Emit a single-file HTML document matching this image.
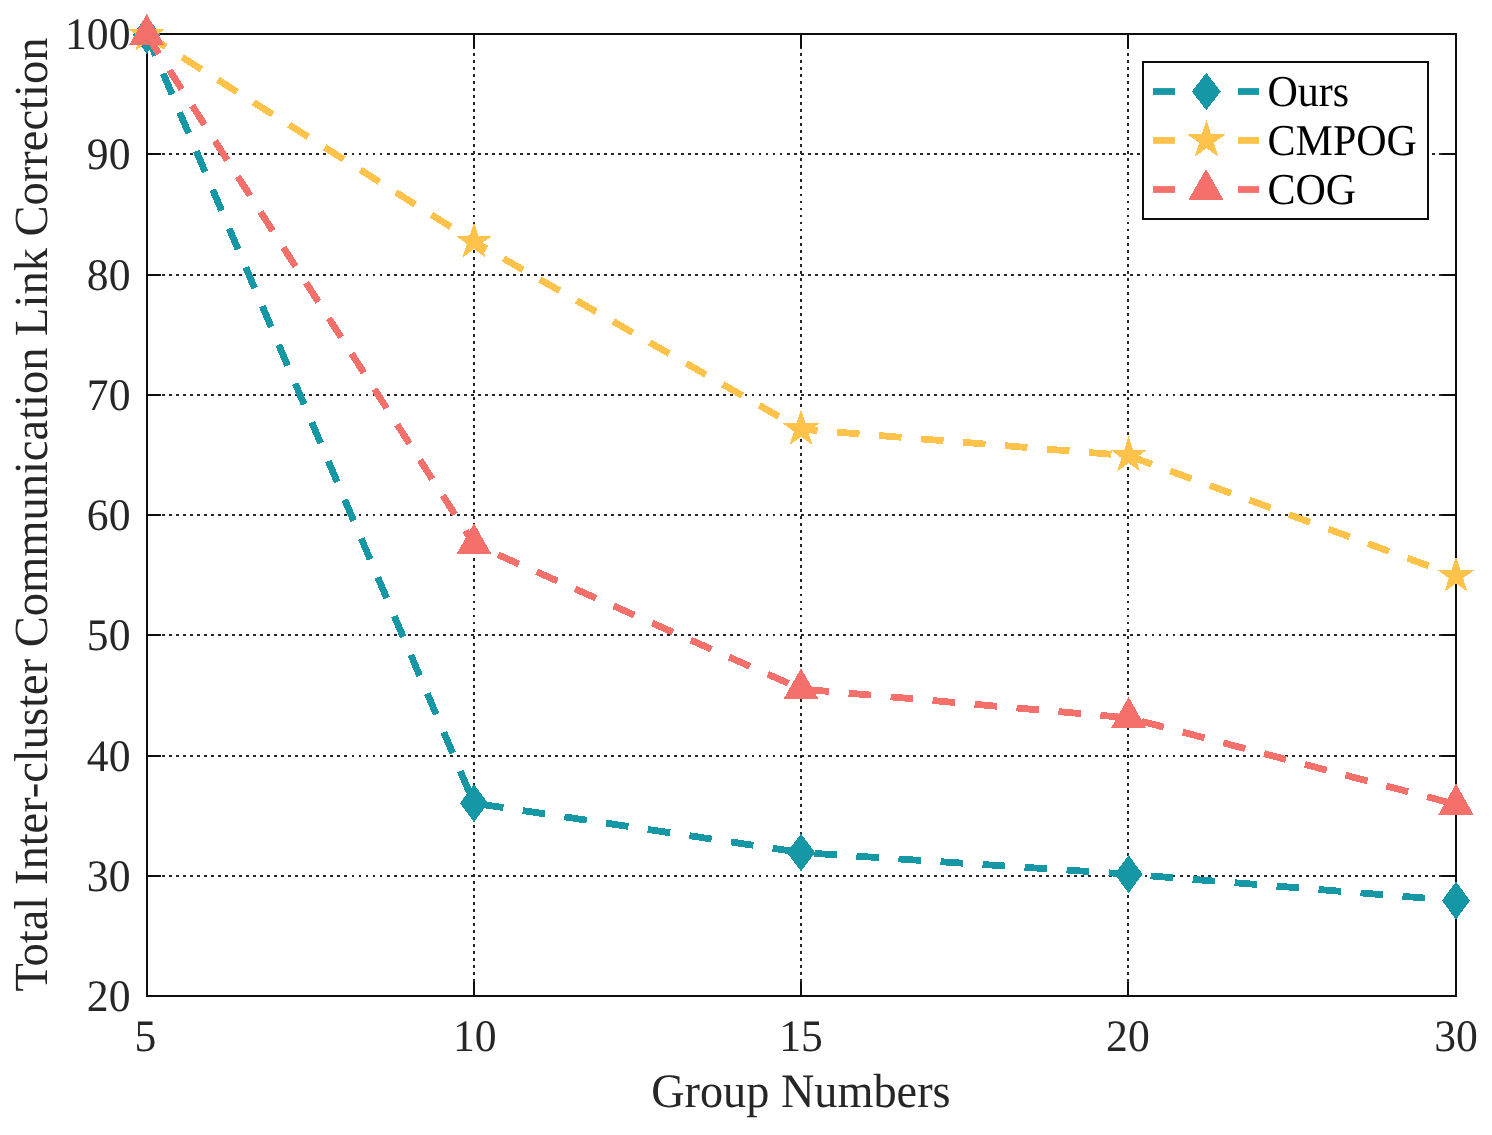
<!DOCTYPE html><html><head><meta charset="utf-8"><style>html,body{margin:0;padding:0;background:#fff;overflow:hidden;}svg{display:block;}text{font-family:"Liberation Serif","Times New Roman",serif;text-rendering:geometricPrecision;}</style></head><body>
<svg width="1492" height="1135" viewBox="0 0 1492 1135">
<rect x="0" y="0" width="1492" height="1135" fill="#fff"/>
<g stroke="#262626" stroke-width="2" stroke-dasharray="2.9 4.1177" shape-rendering="crispEdges"><line x1="148" y1="876" x2="1455" y2="876"/><line x1="148" y1="756" x2="1455" y2="756"/><line x1="148" y1="635" x2="1455" y2="635"/><line x1="148" y1="515" x2="1455" y2="515"/><line x1="148" y1="395" x2="1455" y2="395"/><line x1="148" y1="275" x2="1455" y2="275"/><line x1="148" y1="154" x2="1455" y2="154"/></g>
<g stroke="#262626" stroke-width="2" stroke-dasharray="2.9 4.1177" stroke-dashoffset="2.9" shape-rendering="crispEdges"><line x1="474" y1="35" x2="474" y2="995"/><line x1="801" y1="35" x2="801" y2="995"/><line x1="1128" y1="35" x2="1128" y2="995"/></g>
<g stroke="#0d0d0d" stroke-width="2" shape-rendering="crispEdges"><line x1="147" y1="996" x2="161" y2="996"/><line x1="1456" y1="996" x2="1442" y2="996"/><line x1="147" y1="876" x2="161" y2="876"/><line x1="1456" y1="876" x2="1442" y2="876"/><line x1="147" y1="756" x2="161" y2="756"/><line x1="1456" y1="756" x2="1442" y2="756"/><line x1="147" y1="635" x2="161" y2="635"/><line x1="1456" y1="635" x2="1442" y2="635"/><line x1="147" y1="515" x2="161" y2="515"/><line x1="1456" y1="515" x2="1442" y2="515"/><line x1="147" y1="395" x2="161" y2="395"/><line x1="1456" y1="395" x2="1442" y2="395"/><line x1="147" y1="275" x2="161" y2="275"/><line x1="1456" y1="275" x2="1442" y2="275"/><line x1="147" y1="154" x2="161" y2="154"/><line x1="1456" y1="154" x2="1442" y2="154"/><line x1="147" y1="34" x2="161" y2="34"/><line x1="1456" y1="34" x2="1442" y2="34"/><line x1="147" y1="996" x2="147" y2="982"/><line x1="147" y1="34" x2="147" y2="48"/><line x1="474" y1="996" x2="474" y2="982"/><line x1="474" y1="34" x2="474" y2="48"/><line x1="801" y1="996" x2="801" y2="982"/><line x1="801" y1="34" x2="801" y2="48"/><line x1="1128" y1="996" x2="1128" y2="982"/><line x1="1128" y1="34" x2="1128" y2="48"/><line x1="1456" y1="996" x2="1456" y2="982"/><line x1="1456" y1="34" x2="1456" y2="48"/></g>
<rect x="147" y="34" width="1309" height="962" fill="none" stroke="#0d0d0d" stroke-width="2" shape-rendering="crispEdges"/>
<polyline points="146.70,34.80 474.00,803.20 801.00,852.50 1128.60,874.14 1456.00,900.60" fill="none" stroke="#1597A5" stroke-width="6.8" stroke-dasharray="22.6 19.52" stroke-linejoin="miter" shape-rendering="crispEdges"/>
<path d="M146.70,15.80 L160.70,34.80 L146.70,53.80 L132.70,34.80 Z" fill="#1597A5" shape-rendering="crispEdges"/>
<path d="M474.00,784.20 L488.00,803.20 L474.00,822.20 L460.00,803.20 Z" fill="#1597A5" shape-rendering="crispEdges"/>
<path d="M801.00,833.50 L815.00,852.50 L801.00,871.50 L787.00,852.50 Z" fill="#1597A5" shape-rendering="crispEdges"/>
<path d="M1128.60,855.14 L1142.60,874.14 L1128.60,893.14 L1114.60,874.14 Z" fill="#1597A5" shape-rendering="crispEdges"/>
<path d="M1456.00,881.60 L1470.00,900.60 L1456.00,919.60 L1442.00,900.60 Z" fill="#1597A5" shape-rendering="crispEdges"/>
<polyline points="146.70,34.80 474.00,241.63 801.00,429.22 1128.60,455.68 1456.00,575.92" fill="none" stroke="#FFC24B" stroke-width="6.8" stroke-dasharray="22.6 19.52" stroke-linejoin="miter" shape-rendering="crispEdges"/>
<polygon points="146.70,15.20 151.10,28.74 165.34,28.74 153.82,37.11 158.22,50.66 146.70,42.29 135.18,50.66 139.58,37.11 128.06,28.74 142.30,28.74" fill="#FFC24B" shape-rendering="crispEdges"/>
<polygon points="474.00,222.03 478.40,235.57 492.64,235.57 481.12,243.94 485.52,257.49 474.00,249.12 462.48,257.49 466.88,243.94 455.36,235.57 469.60,235.57" fill="#FFC24B" shape-rendering="crispEdges"/>
<polygon points="801.00,409.62 805.40,423.16 819.64,423.16 808.12,431.53 812.52,445.08 801.00,436.71 789.48,445.08 793.88,431.53 782.36,423.16 796.60,423.16" fill="#FFC24B" shape-rendering="crispEdges"/>
<polygon points="1128.60,436.07 1133.00,449.62 1147.24,449.62 1135.72,457.99 1140.12,471.53 1128.60,463.16 1117.08,471.53 1121.48,457.99 1109.96,449.62 1124.20,449.62" fill="#FFC24B" shape-rendering="crispEdges"/>
<polygon points="1456.00,556.32 1460.40,569.87 1474.64,569.87 1463.12,578.24 1467.52,591.78 1456.00,583.41 1444.48,591.78 1448.88,578.24 1437.36,569.87 1451.60,569.87" fill="#FFC24B" shape-rendering="crispEdges"/>
<polyline points="146.70,34.80 474.00,544.06 801.00,688.96 1128.60,717.82 1456.00,804.40" fill="none" stroke="#F5706A" stroke-width="6.8" stroke-dasharray="22.6 19.52" stroke-linejoin="miter" shape-rendering="crispEdges"/>
<polygon points="146.70,14.00 164.33,45.15 129.07,45.15" fill="#F5706A" shape-rendering="crispEdges"/>
<polygon points="474.00,523.26 491.63,554.41 456.37,554.41" fill="#F5706A" shape-rendering="crispEdges"/>
<polygon points="801.00,668.16 818.63,699.31 783.37,699.31" fill="#F5706A" shape-rendering="crispEdges"/>
<polygon points="1128.60,697.02 1146.23,728.17 1110.97,728.17" fill="#F5706A" shape-rendering="crispEdges"/>
<polygon points="1456.00,783.60 1473.63,814.75 1438.37,814.75" fill="#F5706A" shape-rendering="crispEdges"/>
<text transform="translate(130.50,1011.20) scale(0.97,1)" font-size="45" text-anchor="end" fill="#262626">20</text>
<text transform="translate(130.50,890.95) scale(0.97,1)" font-size="45" text-anchor="end" fill="#262626">30</text>
<text transform="translate(130.50,770.70) scale(0.97,1)" font-size="45" text-anchor="end" fill="#262626">40</text>
<text transform="translate(130.50,650.45) scale(0.97,1)" font-size="45" text-anchor="end" fill="#262626">50</text>
<text transform="translate(130.50,530.20) scale(0.97,1)" font-size="45" text-anchor="end" fill="#262626">60</text>
<text transform="translate(130.50,409.95) scale(0.97,1)" font-size="45" text-anchor="end" fill="#262626">70</text>
<text transform="translate(130.50,289.70) scale(0.97,1)" font-size="45" text-anchor="end" fill="#262626">80</text>
<text transform="translate(130.50,169.45) scale(0.97,1)" font-size="45" text-anchor="end" fill="#262626">90</text>
<text transform="translate(130.50,49.20) scale(0.97,1)" font-size="45" text-anchor="end" fill="#262626">100</text>
<text transform="translate(145.50,1051.00) scale(0.97,1)" font-size="45" text-anchor="middle" fill="#262626">5</text>
<text transform="translate(474.75,1051.00) scale(0.97,1)" font-size="45" text-anchor="middle" fill="#262626">10</text>
<text transform="translate(801.00,1051.00) scale(0.97,1)" font-size="45" text-anchor="middle" fill="#262626">15</text>
<text transform="translate(1127.95,1051.00) scale(0.97,1)" font-size="45" text-anchor="middle" fill="#262626">20</text>
<text transform="translate(1456.00,1051.00) scale(0.97,1)" font-size="45" text-anchor="middle" fill="#262626">30</text>
<text transform="translate(800.85,1107.00) scale(0.964,1)" font-size="48" text-anchor="middle" fill="#262626">Group Numbers</text>
<text transform="translate(47.00,514.60) rotate(-90) scale(0.979,1)" font-size="47.5" text-anchor="middle" fill="#262626">Total Inter-cluster Communication Link Correction</text>
<rect x="1143" y="62" width="285" height="157" fill="#fff" stroke="#0d0d0d" stroke-width="2" shape-rendering="crispEdges"/>
<line x1="1153" y1="91.5" x2="1175" y2="91.5" stroke="#1597A5" stroke-width="6.8"/>
<line x1="1238" y1="91.5" x2="1259" y2="91.5" stroke="#1597A5" stroke-width="6.8"/>
<path d="M1206.30,72.90 L1220.80,91.50 L1206.30,110.10 L1191.80,91.50 Z" fill="#1597A5" shape-rendering="crispEdges"/>
<text transform="translate(1267.50,105.70) scale(0.955,1)" font-size="44" text-anchor="start" fill="#000">Ours</text>
<line x1="1153" y1="140.45" x2="1175" y2="140.45" stroke="#FFC24B" stroke-width="6.8"/>
<line x1="1238" y1="140.45" x2="1259" y2="140.45" stroke="#FFC24B" stroke-width="6.8"/>
<polygon points="1206.50,120.25 1211.04,134.21 1225.71,134.21 1213.84,142.83 1218.37,156.79 1206.50,148.17 1194.63,156.79 1199.16,142.83 1187.29,134.21 1201.96,134.21" fill="#FFC24B" shape-rendering="crispEdges"/>
<text transform="translate(1267.50,154.70) scale(0.955,1)" font-size="44" text-anchor="start" fill="#000">CMPOG</text>
<line x1="1153" y1="189.5" x2="1175" y2="189.5" stroke="#F5706A" stroke-width="6.8"/>
<line x1="1238" y1="189.5" x2="1259" y2="189.5" stroke="#F5706A" stroke-width="6.8"/>
<polygon points="1206.00,168.90 1223.46,199.75 1188.54,199.75" fill="#F5706A" shape-rendering="crispEdges"/>
<text transform="translate(1267.50,203.60) scale(0.955,1)" font-size="44" text-anchor="start" fill="#000">COG</text>
</svg></body></html>
